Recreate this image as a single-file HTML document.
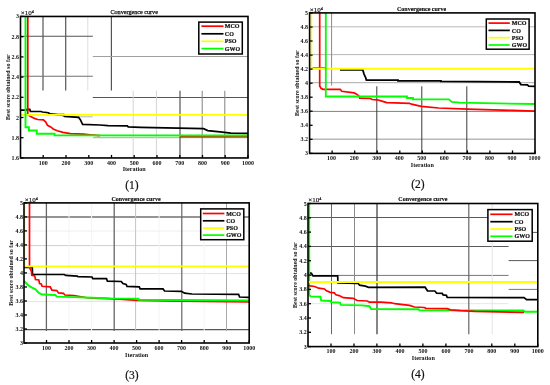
<!DOCTYPE html>
<html><head><meta charset="utf-8"><title>Convergence curves</title>
<style>
html,body{margin:0;padding:0;background:#fff;}
svg{display:block;font-family:"Liberation Serif", serif;}
text{fill:#111;}
</style></head><body>
<svg width="550" height="385" viewBox="0 0 550 385">
<rect width="550" height="385" fill="#fff"/>
<line x1="43.0" y1="16.4" x2="43.0" y2="90.6" stroke="#555555" stroke-width="1.2"/>
<line x1="65.7" y1="16.4" x2="65.7" y2="90.6" stroke="#555555" stroke-width="1.2"/>
<line x1="87.8" y1="16.4" x2="87.8" y2="90.6" stroke="#dddddd" stroke-width="1"/>
<line x1="111.4" y1="16.4" x2="111.4" y2="90.6" stroke="#555555" stroke-width="1.2"/>
<line x1="20.5" y1="36.3" x2="92.8" y2="36.3" stroke="#555555" stroke-width="1.1"/>
<line x1="20.5" y1="76.3" x2="92.8" y2="76.3" stroke="#707070" stroke-width="1.1"/>
<line x1="92.8" y1="56.5" x2="248.0" y2="56.5" stroke="#a0a0a0" stroke-width="1"/>
<line x1="92.8" y1="97.5" x2="248.0" y2="97.5" stroke="#555555" stroke-width="1.1"/>
<line x1="50.0" y1="113.6" x2="64.5" y2="113.6" stroke="#b8b8b8" stroke-width="1"/>
<line x1="72.0" y1="116.8" x2="92.8" y2="116.8" stroke="#b8b8b8" stroke-width="1"/>
<line x1="92.8" y1="137.6" x2="248.0" y2="137.6" stroke="#b8b8b8" stroke-width="1.4"/>
<line x1="133.2" y1="90.8" x2="133.2" y2="158.0" stroke="#d4d4d4" stroke-width="1"/>
<line x1="156.4" y1="90.8" x2="156.4" y2="158.0" stroke="#d4d4d4" stroke-width="1"/>
<line x1="180.0" y1="90.8" x2="180.0" y2="158.0" stroke="#555555" stroke-width="1.2"/>
<line x1="202.2" y1="90.8" x2="202.2" y2="158.0" stroke="#808080" stroke-width="1"/>
<line x1="224.8" y1="90.8" x2="224.8" y2="158.0" stroke="#808080" stroke-width="1"/>
<polyline points="20.5,110.1 27.0,110.1 27.0,109.4 29.8,109.4 30.4,111.3 40.9,111.5 42.5,112.0 48.3,112.7 49.9,113.8 58.0,114.8 63.5,115.5 64.6,116.3 78.6,117.4 80.2,119.5 82.6,124.4 99.8,125.0 108.0,125.6 127.3,125.8 128.2,126.9 140.6,127.3 203.6,128.7 207.7,130.6 220.0,131.8 230.9,133.2 248.0,133.3" fill="none" stroke="#000000" stroke-width="1.7" stroke-linejoin="miter" />
<polyline points="27.8,16.0 27.8,114.6 30.3,116.3 34.4,118.4 37.6,119.5 43.4,119.9 45.8,122.0 47.5,125.3 50.7,126.9 53.2,129.0 57.3,130.7 63.0,132.3 70.4,133.6 83.5,134.2 90.0,134.8 100.0,135.6" fill="none" stroke="#ff0000" stroke-width="1.7" stroke-linejoin="miter" />
<polyline points="180.0,136.6 248.0,136.6" fill="none" stroke="#ff0000" stroke-width="1.6" stroke-linejoin="miter" />
<polyline points="20.5,114.9 248.0,114.9" fill="none" stroke="#ffff00" stroke-width="1.8" stroke-linejoin="miter" />
<polyline points="25.5,16.0 25.5,127.2 28.9,127.2 28.9,130.5 36.8,130.5 36.8,133.8 54.6,133.8 54.6,135.3 248.0,135.5" fill="none" stroke="#00ff00" stroke-width="1.9" stroke-linejoin="miter" />
<rect x="20.5" y="16.45" width="227.5" height="141.5" fill="none" stroke="#000" stroke-width="1.6"/>
<line x1="20.5" y1="157.9" x2="23.5" y2="157.9" stroke="#000" stroke-width="1.3"/>
<text x="19.1" y="159.9" font-size="6" font-weight="bold" text-anchor="end" >1.6</text>
<line x1="20.5" y1="137.7" x2="23.5" y2="137.7" stroke="#000" stroke-width="1.3"/>
<text x="19.1" y="139.7" font-size="6" font-weight="bold" text-anchor="end" >1.8</text>
<line x1="20.5" y1="117.5" x2="23.5" y2="117.5" stroke="#000" stroke-width="1.3"/>
<text x="19.1" y="119.5" font-size="6" font-weight="bold" text-anchor="end" >2</text>
<line x1="20.5" y1="97.3" x2="23.5" y2="97.3" stroke="#000" stroke-width="1.3"/>
<text x="19.1" y="99.3" font-size="6" font-weight="bold" text-anchor="end" >2.2</text>
<line x1="20.5" y1="77.1" x2="23.5" y2="77.1" stroke="#000" stroke-width="1.3"/>
<text x="19.1" y="79.1" font-size="6" font-weight="bold" text-anchor="end" >2.4</text>
<line x1="20.5" y1="56.9" x2="23.5" y2="56.9" stroke="#000" stroke-width="1.3"/>
<text x="19.1" y="58.9" font-size="6" font-weight="bold" text-anchor="end" >2.6</text>
<line x1="20.5" y1="36.7" x2="23.5" y2="36.7" stroke="#000" stroke-width="1.3"/>
<text x="19.1" y="38.7" font-size="6" font-weight="bold" text-anchor="end" >2.8</text>
<line x1="20.5" y1="16.4" x2="23.5" y2="16.4" stroke="#000" stroke-width="1.3"/>
<text x="19.1" y="18.4" font-size="6" font-weight="bold" text-anchor="end" >3</text>
<line x1="43.2" y1="157.9" x2="43.2" y2="154.9" stroke="#000" stroke-width="1.3"/>
<text x="43.2" y="164.8" font-size="6" font-weight="bold" text-anchor="middle" >100</text>
<line x1="66.0" y1="157.9" x2="66.0" y2="154.9" stroke="#000" stroke-width="1.3"/>
<text x="66.0" y="164.8" font-size="6" font-weight="bold" text-anchor="middle" >200</text>
<line x1="88.8" y1="157.9" x2="88.8" y2="154.9" stroke="#000" stroke-width="1.3"/>
<text x="88.8" y="164.8" font-size="6" font-weight="bold" text-anchor="middle" >300</text>
<line x1="111.5" y1="157.9" x2="111.5" y2="154.9" stroke="#000" stroke-width="1.3"/>
<text x="111.5" y="164.8" font-size="6" font-weight="bold" text-anchor="middle" >400</text>
<line x1="134.2" y1="157.9" x2="134.2" y2="154.9" stroke="#000" stroke-width="1.3"/>
<text x="134.2" y="164.8" font-size="6" font-weight="bold" text-anchor="middle" >500</text>
<line x1="157.0" y1="157.9" x2="157.0" y2="154.9" stroke="#000" stroke-width="1.3"/>
<text x="157.0" y="164.8" font-size="6" font-weight="bold" text-anchor="middle" >600</text>
<line x1="179.8" y1="157.9" x2="179.8" y2="154.9" stroke="#000" stroke-width="1.3"/>
<text x="179.8" y="164.8" font-size="6" font-weight="bold" text-anchor="middle" >700</text>
<line x1="202.5" y1="157.9" x2="202.5" y2="154.9" stroke="#000" stroke-width="1.3"/>
<text x="202.5" y="164.8" font-size="6" font-weight="bold" text-anchor="middle" >800</text>
<line x1="225.2" y1="157.9" x2="225.2" y2="154.9" stroke="#000" stroke-width="1.3"/>
<text x="225.2" y="164.8" font-size="6" font-weight="bold" text-anchor="middle" >900</text>
<line x1="248.0" y1="157.9" x2="248.0" y2="154.9" stroke="#000" stroke-width="1.3"/>
<text x="248.0" y="164.8" font-size="6" font-weight="bold" text-anchor="middle" >1000</text>
<text x="134.2" y="171.3" font-size="6.1" font-weight="bold" text-anchor="middle" >Iteration</text>
<text x="134.2" y="13.9" font-size="6.15" font-weight="normal" text-anchor="middle" stroke="#111" stroke-width="0.25">Convergence curve</text>
<text x="20.7" y="15.2" font-size="7" stroke="#111" stroke-width="0.15">×10<tspan dy="-2.2" font-size="4.2">4</tspan></text>
<text transform="translate(9.6,87.2) rotate(-90)" font-size="6.0" font-weight="bold" text-anchor="middle">Best score obtained so far</text>
<rect x="198.8" y="22.1" width="43.5" height="31.9" fill="#fff" stroke="#000" stroke-width="1.5"/>
<line x1="201.4" y1="26.2" x2="223.5" y2="26.2" stroke="#ff0000" stroke-width="1.7"/>
<text x="224.8" y="28.3" font-size="6.0" font-weight="bold" text-anchor="start" stroke="#111" stroke-width="0.2">MCO</text>
<line x1="201.4" y1="33.8" x2="223.5" y2="33.8" stroke="#000000" stroke-width="1.7"/>
<text x="224.8" y="35.9" font-size="6.0" font-weight="bold" text-anchor="start" stroke="#111" stroke-width="0.2">CO</text>
<line x1="201.4" y1="41.3" x2="223.5" y2="41.3" stroke="#ffff00" stroke-width="1.7"/>
<text x="224.8" y="43.4" font-size="6.0" font-weight="bold" text-anchor="start" stroke="#111" stroke-width="0.2">PSO</text>
<line x1="201.4" y1="48.6" x2="223.5" y2="48.6" stroke="#00ff00" stroke-width="1.7"/>
<text x="224.8" y="50.7" font-size="6.0" font-weight="bold" text-anchor="start" stroke="#111" stroke-width="0.2">GWO</text>
<text x="131.9" y="188.7" font-size="11.5" font-weight="normal" text-anchor="middle" stroke="#111" stroke-width="0.2">(1)</text>
<line x1="309.6" y1="26.8" x2="535.0" y2="26.8" stroke="#b8b8b8" stroke-width="1"/>
<line x1="309.6" y1="54.6" x2="535.0" y2="54.6" stroke="#b8b8b8" stroke-width="1"/>
<line x1="309.6" y1="82.7" x2="535.0" y2="82.7" stroke="#aaaaaa" stroke-width="1"/>
<line x1="309.6" y1="111.4" x2="535.0" y2="111.4" stroke="#808080" stroke-width="1"/>
<line x1="309.6" y1="139.3" x2="535.0" y2="139.3" stroke="#b8b8b8" stroke-width="1.4"/>
<line x1="331.6" y1="12.9" x2="331.6" y2="85.6" stroke="#8c8c8c" stroke-width="1"/>
<line x1="376.8" y1="86.3" x2="376.8" y2="153.4" stroke="#3a3a3a" stroke-width="1"/>
<line x1="421.8" y1="86.3" x2="421.8" y2="153.4" stroke="#3a3a3a" stroke-width="1"/>
<line x1="466.8" y1="86.3" x2="466.8" y2="153.4" stroke="#3a3a3a" stroke-width="1"/>
<polyline points="312.5,67.5 325.0,67.5" fill="none" stroke="#555" stroke-width="0.8" stroke-linejoin="miter" />
<polyline points="340.0,69.9 362.8,69.9 364.0,74.0 365.6,77.5 366.4,80.1 398.0,80.1 398.0,80.9 440.9,80.9 440.9,81.3 519.2,82.0 520.9,84.6 527.4,84.9 528.7,86.1 535.0,86.3" fill="none" stroke="#000000" stroke-width="1.8" stroke-linejoin="miter" />
<polyline points="319.7,12.9 319.7,86.0 321.0,88.3 323.0,89.3 340.2,89.3 341.8,91.3 354.1,92.9 357.4,94.6 359.0,96.2 359.8,98.2 370.5,98.5 372.1,99.5 377.0,99.8 381.9,101.1 386.8,102.6 395.0,102.8 409.5,103.3 411.5,104.2 421.3,106.4 438.5,108.0 467.6,109.1 512.7,110.4 535.0,111.2" fill="none" stroke="#ff0000" stroke-width="1.7" stroke-linejoin="miter" />
<polyline points="311.4,12.9 311.4,68.8" fill="none" stroke="#ffff00" stroke-width="1.6" stroke-linejoin="miter" />
<polyline points="310.6,68.8 535.0,68.8" fill="none" stroke="#ffff00" stroke-width="1.9" stroke-linejoin="miter" />
<polyline points="325.8,12.9 325.8,96.5 407.0,96.5 407.0,98.0 413.0,98.0 413.0,99.3 449.0,99.3 451.7,101.9 459.7,102.7 535.0,104.0" fill="none" stroke="#00ff00" stroke-width="1.8" stroke-linejoin="miter" />
<rect x="309.6" y="12.9" width="225.39999999999998" height="140.5" fill="none" stroke="#000" stroke-width="1.6"/>
<line x1="309.6" y1="153.4" x2="312.6" y2="153.4" stroke="#000" stroke-width="1.3"/>
<text x="308.0" y="155.4" font-size="6" font-weight="bold" text-anchor="end" >3</text>
<line x1="309.6" y1="139.3" x2="312.6" y2="139.3" stroke="#000" stroke-width="1.3"/>
<text x="308.0" y="141.3" font-size="6" font-weight="bold" text-anchor="end" >3.2</text>
<line x1="309.6" y1="125.3" x2="312.6" y2="125.3" stroke="#000" stroke-width="1.3"/>
<text x="308.0" y="127.3" font-size="6" font-weight="bold" text-anchor="end" >3.4</text>
<line x1="309.6" y1="111.2" x2="312.6" y2="111.2" stroke="#000" stroke-width="1.3"/>
<text x="308.0" y="113.2" font-size="6" font-weight="bold" text-anchor="end" >3.6</text>
<line x1="309.6" y1="97.2" x2="312.6" y2="97.2" stroke="#000" stroke-width="1.3"/>
<text x="308.0" y="99.2" font-size="6" font-weight="bold" text-anchor="end" >3.8</text>
<line x1="309.6" y1="83.2" x2="312.6" y2="83.2" stroke="#000" stroke-width="1.3"/>
<text x="308.0" y="85.2" font-size="6" font-weight="bold" text-anchor="end" >4</text>
<line x1="309.6" y1="69.1" x2="312.6" y2="69.1" stroke="#000" stroke-width="1.3"/>
<text x="308.0" y="71.1" font-size="6" font-weight="bold" text-anchor="end" >4.2</text>
<line x1="309.6" y1="55.1" x2="312.6" y2="55.1" stroke="#000" stroke-width="1.3"/>
<text x="308.0" y="57.1" font-size="6" font-weight="bold" text-anchor="end" >4.4</text>
<line x1="309.6" y1="41.0" x2="312.6" y2="41.0" stroke="#000" stroke-width="1.3"/>
<text x="308.0" y="43.0" font-size="6" font-weight="bold" text-anchor="end" >4.6</text>
<line x1="309.6" y1="27.0" x2="312.6" y2="27.0" stroke="#000" stroke-width="1.3"/>
<text x="308.0" y="29.0" font-size="6" font-weight="bold" text-anchor="end" >4.8</text>
<line x1="309.6" y1="12.9" x2="312.6" y2="12.9" stroke="#000" stroke-width="1.3"/>
<text x="308.0" y="14.9" font-size="6" font-weight="bold" text-anchor="end" >5</text>
<line x1="332.1" y1="153.4" x2="332.1" y2="150.4" stroke="#000" stroke-width="1.3"/>
<text x="331.6" y="159.9" font-size="6" font-weight="bold" text-anchor="middle" >100</text>
<line x1="354.7" y1="153.4" x2="354.7" y2="150.4" stroke="#000" stroke-width="1.3"/>
<text x="354.2" y="159.9" font-size="6" font-weight="bold" text-anchor="middle" >200</text>
<line x1="377.2" y1="153.4" x2="377.2" y2="150.4" stroke="#000" stroke-width="1.3"/>
<text x="376.7" y="159.9" font-size="6" font-weight="bold" text-anchor="middle" >300</text>
<line x1="399.8" y1="153.4" x2="399.8" y2="150.4" stroke="#000" stroke-width="1.3"/>
<text x="399.3" y="159.9" font-size="6" font-weight="bold" text-anchor="middle" >400</text>
<line x1="422.3" y1="153.4" x2="422.3" y2="150.4" stroke="#000" stroke-width="1.3"/>
<text x="421.8" y="159.9" font-size="6" font-weight="bold" text-anchor="middle" >500</text>
<line x1="444.8" y1="153.4" x2="444.8" y2="150.4" stroke="#000" stroke-width="1.3"/>
<text x="444.3" y="159.9" font-size="6" font-weight="bold" text-anchor="middle" >600</text>
<line x1="467.4" y1="153.4" x2="467.4" y2="150.4" stroke="#000" stroke-width="1.3"/>
<text x="466.9" y="159.9" font-size="6" font-weight="bold" text-anchor="middle" >700</text>
<line x1="489.9" y1="153.4" x2="489.9" y2="150.4" stroke="#000" stroke-width="1.3"/>
<text x="489.4" y="159.9" font-size="6" font-weight="bold" text-anchor="middle" >800</text>
<line x1="512.5" y1="153.4" x2="512.5" y2="150.4" stroke="#000" stroke-width="1.3"/>
<text x="512.0" y="159.9" font-size="6" font-weight="bold" text-anchor="middle" >900</text>
<line x1="535.0" y1="153.4" x2="535.0" y2="150.4" stroke="#000" stroke-width="1.3"/>
<text x="534.5" y="159.9" font-size="6" font-weight="bold" text-anchor="middle" >1000</text>
<text x="422.3" y="167.4" font-size="6.1" font-weight="bold" text-anchor="middle" >Iteration</text>
<text x="421.6" y="11.4" font-size="6.0" font-weight="bold" text-anchor="middle" stroke="#111" stroke-width="0.15">Convergence curve</text>
<text x="309.8" y="11.7" font-size="7" stroke="#111" stroke-width="0.15">×10<tspan dy="-2.2" font-size="4.2">4</tspan></text>
<text transform="translate(298.7,83.2) rotate(-90)" font-size="6.0" font-weight="bold" text-anchor="middle">Best score obtained so far</text>
<rect x="486.3" y="19" width="42.8" height="30.2" fill="#fff" stroke="#000" stroke-width="1.5"/>
<line x1="488.5" y1="23.1" x2="509.8" y2="23.1" stroke="#ff0000" stroke-width="1.7"/>
<text x="511.8" y="25.2" font-size="6.0" font-weight="bold" text-anchor="start" stroke="#111" stroke-width="0.2">MCO</text>
<line x1="488.5" y1="30.4" x2="509.8" y2="30.4" stroke="#000000" stroke-width="1.7"/>
<text x="511.8" y="32.5" font-size="6.0" font-weight="bold" text-anchor="start" stroke="#111" stroke-width="0.2">CO</text>
<line x1="488.5" y1="37.7" x2="509.8" y2="37.7" stroke="#ffff00" stroke-width="1.7"/>
<text x="511.8" y="39.8" font-size="6.0" font-weight="bold" text-anchor="start" stroke="#111" stroke-width="0.2">PSO</text>
<line x1="488.5" y1="45.0" x2="509.8" y2="45.0" stroke="#00ff00" stroke-width="1.7"/>
<text x="511.8" y="47.1" font-size="6.0" font-weight="bold" text-anchor="start" stroke="#111" stroke-width="0.2">GWO</text>
<text x="418.0" y="188.4" font-size="11.5" font-weight="normal" text-anchor="middle" stroke="#111" stroke-width="0.2">(2)</text>
<line x1="24.0" y1="217.1" x2="249.2" y2="217.1" stroke="#707070" stroke-width="1.5"/>
<line x1="24.0" y1="245.6" x2="249.2" y2="245.6" stroke="#cfcfcf" stroke-width="1"/>
<line x1="24.0" y1="273.6" x2="249.2" y2="273.6" stroke="#e2e2e2" stroke-width="1"/>
<line x1="24.0" y1="329.6" x2="249.2" y2="329.6" stroke="#585858" stroke-width="1.3"/>
<line x1="69.0" y1="202.9" x2="69.0" y2="331.0" stroke="#f4f4f4" stroke-width="1"/>
<line x1="91.6" y1="202.9" x2="91.6" y2="331.0" stroke="#f4f4f4" stroke-width="1"/>
<line x1="159.1" y1="202.9" x2="159.1" y2="331.0" stroke="#f4f4f4" stroke-width="1"/>
<line x1="204.2" y1="202.9" x2="204.2" y2="331.0" stroke="#f4f4f4" stroke-width="1"/>
<line x1="24.0" y1="231.0" x2="249.2" y2="231.0" stroke="#eeeeee" stroke-width="1"/>
<line x1="24.0" y1="301.6" x2="249.2" y2="301.6" stroke="#e4e4e4" stroke-width="1"/>
<line x1="46.4" y1="202.9" x2="46.4" y2="331.0" stroke="#666666" stroke-width="1.3"/>
<line x1="114.2" y1="202.9" x2="114.2" y2="331.0" stroke="#666666" stroke-width="1.3"/>
<line x1="135.6" y1="202.9" x2="135.6" y2="331.0" stroke="#c4c4c4" stroke-width="1"/>
<line x1="181.8" y1="202.9" x2="181.8" y2="331.0" stroke="#666666" stroke-width="1.2"/>
<line x1="226.5" y1="202.9" x2="226.5" y2="331.0" stroke="#aaaaaa" stroke-width="1"/>
<polyline points="24.0,267.5 32.3,267.5 32.5,274.5 64.2,274.5 65.8,275.4 77.3,276.2 78.1,276.7 92.0,277.0 92.8,278.6 106.5,278.7 107.4,281.2 121.3,281.5 122.9,283.6 126.2,284.5 127.0,286.4 139.3,286.9 140.1,288.9 163.0,288.9 164.6,291.0 181.4,291.3 184.6,293.2 192.0,294.0 238.6,294.3 239.6,297.0 249.2,297.4" fill="none" stroke="#000000" stroke-width="1.7" stroke-linejoin="miter" />
<polyline points="29.5,202.9 29.5,267.5 31.5,271.3 31.8,275.4 34.7,275.9 35.5,279.5 38.8,280.0 39.6,283.6 41.3,284.0 42.1,286.3 50.3,286.8 51.9,290.1 56.8,290.6 58.5,292.9 63.4,293.4 65.0,295.0 74.0,295.5 85.5,297.5 90.4,297.8 119.2,299.2 137.7,300.3 180.0,301.2 249.2,301.8" fill="none" stroke="#ff0000" stroke-width="1.7" stroke-linejoin="miter" />
<polyline points="24.9,202.9 24.9,266.4" fill="none" stroke="#ffff00" stroke-width="1.0" stroke-linejoin="miter" />
<polyline points="24.5,266.4 249.2,266.4" fill="none" stroke="#ffff00" stroke-width="1.8" stroke-linejoin="miter" />
<polyline points="24.0,281.0 28.2,285.2 31.5,287.3 35.5,289.3 38.8,292.9 42.1,294.5 55.2,295.0 56.8,296.6 74.0,297.1 85.5,297.5 110.0,298.4 138.3,298.6 138.8,299.7 249.2,300.5" fill="none" stroke="#00ff00" stroke-width="1.9" stroke-linejoin="miter" />
<rect x="24.0" y="202.9" width="225.2" height="140.1" fill="none" stroke="#000" stroke-width="1.6"/>
<line x1="24.0" y1="343.0" x2="27.0" y2="343.0" stroke="#000" stroke-width="1.3"/>
<text x="22.9" y="345.0" font-size="6" font-weight="bold" text-anchor="end" >3</text>
<line x1="24.0" y1="329.0" x2="27.0" y2="329.0" stroke="#000" stroke-width="1.3"/>
<text x="22.9" y="331.0" font-size="6" font-weight="bold" text-anchor="end" >3.2</text>
<line x1="24.0" y1="315.0" x2="27.0" y2="315.0" stroke="#000" stroke-width="1.3"/>
<text x="22.9" y="317.0" font-size="6" font-weight="bold" text-anchor="end" >3.4</text>
<line x1="24.0" y1="301.0" x2="27.0" y2="301.0" stroke="#000" stroke-width="1.3"/>
<text x="22.9" y="303.0" font-size="6" font-weight="bold" text-anchor="end" >3.6</text>
<line x1="24.0" y1="287.0" x2="27.0" y2="287.0" stroke="#000" stroke-width="1.3"/>
<text x="22.9" y="289.0" font-size="6" font-weight="bold" text-anchor="end" >3.8</text>
<line x1="24.0" y1="272.9" x2="27.0" y2="272.9" stroke="#000" stroke-width="1.3"/>
<text x="22.9" y="274.9" font-size="6" font-weight="bold" text-anchor="end" >4</text>
<line x1="24.0" y1="258.9" x2="27.0" y2="258.9" stroke="#000" stroke-width="1.3"/>
<text x="22.9" y="260.9" font-size="6" font-weight="bold" text-anchor="end" >4.2</text>
<line x1="24.0" y1="244.9" x2="27.0" y2="244.9" stroke="#000" stroke-width="1.3"/>
<text x="22.9" y="246.9" font-size="6" font-weight="bold" text-anchor="end" >4.4</text>
<line x1="24.0" y1="230.9" x2="27.0" y2="230.9" stroke="#000" stroke-width="1.3"/>
<text x="22.9" y="232.9" font-size="6" font-weight="bold" text-anchor="end" >4.6</text>
<line x1="24.0" y1="216.9" x2="27.0" y2="216.9" stroke="#000" stroke-width="1.3"/>
<text x="22.9" y="218.9" font-size="6" font-weight="bold" text-anchor="end" >4.8</text>
<line x1="24.0" y1="202.9" x2="27.0" y2="202.9" stroke="#000" stroke-width="1.3"/>
<text x="22.9" y="204.9" font-size="6" font-weight="bold" text-anchor="end" >5</text>
<line x1="46.5" y1="343.0" x2="46.5" y2="340.0" stroke="#000" stroke-width="1.3"/>
<text x="46.5" y="350.3" font-size="6" font-weight="bold" text-anchor="middle" >100</text>
<line x1="69.0" y1="343.0" x2="69.0" y2="340.0" stroke="#000" stroke-width="1.3"/>
<text x="69.0" y="350.3" font-size="6" font-weight="bold" text-anchor="middle" >200</text>
<line x1="91.6" y1="343.0" x2="91.6" y2="340.0" stroke="#000" stroke-width="1.3"/>
<text x="91.6" y="350.3" font-size="6" font-weight="bold" text-anchor="middle" >300</text>
<line x1="114.1" y1="343.0" x2="114.1" y2="340.0" stroke="#000" stroke-width="1.3"/>
<text x="114.1" y="350.3" font-size="6" font-weight="bold" text-anchor="middle" >400</text>
<line x1="136.6" y1="343.0" x2="136.6" y2="340.0" stroke="#000" stroke-width="1.3"/>
<text x="136.6" y="350.3" font-size="6" font-weight="bold" text-anchor="middle" >500</text>
<line x1="159.1" y1="343.0" x2="159.1" y2="340.0" stroke="#000" stroke-width="1.3"/>
<text x="159.1" y="350.3" font-size="6" font-weight="bold" text-anchor="middle" >600</text>
<line x1="181.6" y1="343.0" x2="181.6" y2="340.0" stroke="#000" stroke-width="1.3"/>
<text x="181.6" y="350.3" font-size="6" font-weight="bold" text-anchor="middle" >700</text>
<line x1="204.2" y1="343.0" x2="204.2" y2="340.0" stroke="#000" stroke-width="1.3"/>
<text x="204.2" y="350.3" font-size="6" font-weight="bold" text-anchor="middle" >800</text>
<line x1="226.7" y1="343.0" x2="226.7" y2="340.0" stroke="#000" stroke-width="1.3"/>
<text x="226.7" y="350.3" font-size="6" font-weight="bold" text-anchor="middle" >900</text>
<line x1="249.2" y1="343.0" x2="249.2" y2="340.0" stroke="#000" stroke-width="1.3"/>
<text x="249.2" y="350.3" font-size="6" font-weight="bold" text-anchor="middle" >1000</text>
<text x="136.6" y="357.0" font-size="6.1" font-weight="bold" text-anchor="middle" >Iteration</text>
<text x="136.0" y="200.7" font-size="6.0" font-weight="bold" text-anchor="middle" stroke="#111" stroke-width="0.15">Convergence curve</text>
<text x="24.7" y="201.7" font-size="7" stroke="#111" stroke-width="0.15">×10<tspan dy="-2.2" font-size="4.2">4</tspan></text>
<text transform="translate(13.1,272.9) rotate(-90)" font-size="6.0" font-weight="bold" text-anchor="middle">Best score obtained so far</text>
<rect x="200.7" y="208.9" width="43.1" height="30.8" fill="#fff" stroke="#000" stroke-width="1.5"/>
<line x1="202.8" y1="213.5" x2="224.4" y2="213.5" stroke="#ff0000" stroke-width="1.7"/>
<text x="226.2" y="215.6" font-size="6.0" font-weight="bold" text-anchor="start" stroke="#111" stroke-width="0.2">MCO</text>
<line x1="202.8" y1="220.8" x2="224.4" y2="220.8" stroke="#000000" stroke-width="1.7"/>
<text x="226.2" y="222.9" font-size="6.0" font-weight="bold" text-anchor="start" stroke="#111" stroke-width="0.2">CO</text>
<line x1="202.8" y1="228.1" x2="224.4" y2="228.1" stroke="#ffff00" stroke-width="1.7"/>
<text x="226.2" y="230.2" font-size="6.0" font-weight="bold" text-anchor="start" stroke="#111" stroke-width="0.2">PSO</text>
<line x1="202.8" y1="235.1" x2="224.4" y2="235.1" stroke="#00ff00" stroke-width="1.7"/>
<text x="226.2" y="237.2" font-size="6.0" font-weight="bold" text-anchor="start" stroke="#111" stroke-width="0.2">GWO</text>
<text x="132.0" y="378.7" font-size="11.5" font-weight="normal" text-anchor="middle" stroke="#111" stroke-width="0.2">(3)</text>
<line x1="308.0" y1="217.5" x2="508.6" y2="217.5" stroke="#5a5a5a" stroke-width="1.0"/>
<line x1="308.0" y1="246.5" x2="508.6" y2="246.5" stroke="#5a5a5a" stroke-width="1.0"/>
<line x1="308.0" y1="275.4" x2="508.6" y2="275.4" stroke="#777777" stroke-width="1.0"/>
<line x1="508.6" y1="232.4" x2="537.8" y2="232.4" stroke="#5a5a5a" stroke-width="1.0"/>
<line x1="508.6" y1="260.6" x2="537.8" y2="260.6" stroke="#5a5a5a" stroke-width="1.0"/>
<line x1="508.6" y1="289.4" x2="537.8" y2="289.4" stroke="#777777" stroke-width="1.0"/>
<line x1="308.0" y1="303.7" x2="508.6" y2="303.7" stroke="#e6e6e6" stroke-width="1"/>
<line x1="331.5" y1="203.5" x2="331.5" y2="334.2" stroke="#686868" stroke-width="1"/>
<line x1="354.5" y1="203.5" x2="354.5" y2="334.2" stroke="#8a8a8a" stroke-width="1"/>
<line x1="377.0" y1="203.5" x2="377.0" y2="334.2" stroke="#444444" stroke-width="1.3"/>
<line x1="468.8" y1="203.5" x2="468.8" y2="334.2" stroke="#666666" stroke-width="1.2"/>
<line x1="492.2" y1="203.5" x2="492.2" y2="334.2" stroke="#e4e4e4" stroke-width="1"/>
<polyline points="308.0,272.6 311.4,273.3 313.0,275.9 337.7,275.9 337.9,282.9 358.0,283.3 359.6,285.2 365.4,286.2 368.6,287.3 425.1,287.2 427.5,290.8 434.9,291.0 436.6,293.1 442.3,293.3 443.1,294.9 446.4,295.3 447.2,297.4 524.0,297.6 526.6,299.7 537.8,299.7" fill="none" stroke="#000000" stroke-width="1.7" stroke-linejoin="miter" />
<polyline points="309.2,203.5 309.2,294.7 310.5,296.4 320.4,296.7 321.2,300.5 330.2,301.0 331.0,302.1 340.0,302.6 340.8,304.9 362.1,305.4 369.5,306.2 371.1,309.0 418.6,309.2 419.4,310.3 523.3,310.5 525.0,311.7 537.8,311.7" fill="none" stroke="#00ff00" stroke-width="1.9" stroke-linejoin="miter" />
<polyline points="308.0,285.7 314.6,286.5 318.7,288.2 324.5,289.0 326.1,290.6 330.2,292.3 334.3,292.8 335.9,294.7 339.2,295.6 343.3,297.7 353.1,298.3 357.2,300.5 367.0,301.0 369.5,302.1 381.0,302.1 391.5,302.8 394.8,303.7 403.0,304.6 409.5,305.4 414.5,307.0 424.3,307.5 425.9,308.3 447.2,308.6 450.5,309.8 460.3,310.6 475.0,311.4 520.6,312.3 524.0,312.3" fill="none" stroke="#ff0000" stroke-width="1.7" stroke-linejoin="miter" />
<polyline points="308.0,282.0 537.8,282.0" fill="none" stroke="#ffff00" stroke-width="1.8" stroke-linejoin="miter" />
<rect x="308.0" y="203.5" width="229.79999999999995" height="143.10000000000002" fill="none" stroke="#000" stroke-width="1.6"/>
<line x1="308.0" y1="346.6" x2="311.0" y2="346.6" stroke="#000" stroke-width="1.3"/>
<text x="306.8" y="348.6" font-size="6" font-weight="bold" text-anchor="end" >3</text>
<line x1="308.0" y1="332.3" x2="311.0" y2="332.3" stroke="#000" stroke-width="1.3"/>
<text x="306.8" y="334.3" font-size="6" font-weight="bold" text-anchor="end" >3.2</text>
<line x1="308.0" y1="318.0" x2="311.0" y2="318.0" stroke="#000" stroke-width="1.3"/>
<text x="306.8" y="320.0" font-size="6" font-weight="bold" text-anchor="end" >3.4</text>
<line x1="308.0" y1="303.7" x2="311.0" y2="303.7" stroke="#000" stroke-width="1.3"/>
<text x="306.8" y="305.7" font-size="6" font-weight="bold" text-anchor="end" >3.6</text>
<line x1="308.0" y1="289.4" x2="311.0" y2="289.4" stroke="#000" stroke-width="1.3"/>
<text x="306.8" y="291.4" font-size="6" font-weight="bold" text-anchor="end" >3.8</text>
<line x1="308.0" y1="275.1" x2="311.0" y2="275.1" stroke="#000" stroke-width="1.3"/>
<text x="306.8" y="277.1" font-size="6" font-weight="bold" text-anchor="end" >4</text>
<line x1="308.0" y1="260.7" x2="311.0" y2="260.7" stroke="#000" stroke-width="1.3"/>
<text x="306.8" y="262.7" font-size="6" font-weight="bold" text-anchor="end" >4.2</text>
<line x1="308.0" y1="246.4" x2="311.0" y2="246.4" stroke="#000" stroke-width="1.3"/>
<text x="306.8" y="248.4" font-size="6" font-weight="bold" text-anchor="end" >4.4</text>
<line x1="308.0" y1="232.1" x2="311.0" y2="232.1" stroke="#000" stroke-width="1.3"/>
<text x="306.8" y="234.1" font-size="6" font-weight="bold" text-anchor="end" >4.6</text>
<line x1="308.0" y1="217.8" x2="311.0" y2="217.8" stroke="#000" stroke-width="1.3"/>
<text x="306.8" y="219.8" font-size="6" font-weight="bold" text-anchor="end" >4.8</text>
<line x1="308.0" y1="203.5" x2="311.0" y2="203.5" stroke="#000" stroke-width="1.3"/>
<text x="306.8" y="205.5" font-size="6" font-weight="bold" text-anchor="end" >5</text>
<line x1="331.0" y1="346.6" x2="331.0" y2="343.6" stroke="#000" stroke-width="1.3"/>
<text x="331.0" y="353.3" font-size="6" font-weight="bold" text-anchor="middle" >100</text>
<line x1="354.0" y1="346.6" x2="354.0" y2="343.6" stroke="#000" stroke-width="1.3"/>
<text x="354.0" y="353.3" font-size="6" font-weight="bold" text-anchor="middle" >200</text>
<line x1="376.9" y1="346.6" x2="376.9" y2="343.6" stroke="#000" stroke-width="1.3"/>
<text x="376.9" y="353.3" font-size="6" font-weight="bold" text-anchor="middle" >300</text>
<line x1="399.9" y1="346.6" x2="399.9" y2="343.6" stroke="#000" stroke-width="1.3"/>
<text x="399.9" y="353.3" font-size="6" font-weight="bold" text-anchor="middle" >400</text>
<line x1="422.9" y1="346.6" x2="422.9" y2="343.6" stroke="#000" stroke-width="1.3"/>
<text x="422.9" y="353.3" font-size="6" font-weight="bold" text-anchor="middle" >500</text>
<line x1="445.9" y1="346.6" x2="445.9" y2="343.6" stroke="#000" stroke-width="1.3"/>
<text x="445.9" y="353.3" font-size="6" font-weight="bold" text-anchor="middle" >600</text>
<line x1="468.9" y1="346.6" x2="468.9" y2="343.6" stroke="#000" stroke-width="1.3"/>
<text x="468.9" y="353.3" font-size="6" font-weight="bold" text-anchor="middle" >700</text>
<line x1="491.8" y1="346.6" x2="491.8" y2="343.6" stroke="#000" stroke-width="1.3"/>
<text x="491.8" y="353.3" font-size="6" font-weight="bold" text-anchor="middle" >800</text>
<line x1="514.8" y1="346.6" x2="514.8" y2="343.6" stroke="#000" stroke-width="1.3"/>
<text x="514.8" y="353.3" font-size="6" font-weight="bold" text-anchor="middle" >900</text>
<line x1="537.8" y1="346.6" x2="537.8" y2="343.6" stroke="#000" stroke-width="1.3"/>
<text x="537.8" y="353.3" font-size="6" font-weight="bold" text-anchor="middle" >1000</text>
<text x="423.3" y="360.0" font-size="6.1" font-weight="bold" text-anchor="middle" >Iteration</text>
<text x="422.9" y="201.0" font-size="6.0" font-weight="bold" text-anchor="middle" stroke="#111" stroke-width="0.15">Convergence curve</text>
<text x="308.2" y="202.3" font-size="7" stroke="#111" stroke-width="0.15">×10<tspan dy="-2.2" font-size="4.2">4</tspan></text>
<text transform="translate(297.1,275.1) rotate(-90)" font-size="6.0" font-weight="bold" text-anchor="middle">Best score obtained so far</text>
<rect x="487.9" y="209.6" width="44.3" height="31.6" fill="#fff" stroke="#000" stroke-width="1.5"/>
<line x1="490.3" y1="214.3" x2="512.6" y2="214.3" stroke="#ff0000" stroke-width="1.7"/>
<text x="514.5" y="216.4" font-size="6.0" font-weight="bold" text-anchor="start" stroke="#111" stroke-width="0.2">MCO</text>
<line x1="490.3" y1="221.7" x2="512.6" y2="221.7" stroke="#000000" stroke-width="1.7"/>
<text x="514.5" y="223.8" font-size="6.0" font-weight="bold" text-anchor="start" stroke="#111" stroke-width="0.2">CO</text>
<line x1="490.3" y1="229.0" x2="512.6" y2="229.0" stroke="#ffff00" stroke-width="1.7"/>
<text x="514.5" y="231.1" font-size="6.0" font-weight="bold" text-anchor="start" stroke="#111" stroke-width="0.2">PSO</text>
<line x1="490.3" y1="236.3" x2="512.6" y2="236.3" stroke="#00ff00" stroke-width="1.7"/>
<text x="514.5" y="238.4" font-size="6.0" font-weight="bold" text-anchor="start" stroke="#111" stroke-width="0.2">GWO</text>
<text x="418.0" y="378.4" font-size="11.5" font-weight="normal" text-anchor="middle" stroke="#111" stroke-width="0.2">(4)</text>
</svg>
</body></html>
